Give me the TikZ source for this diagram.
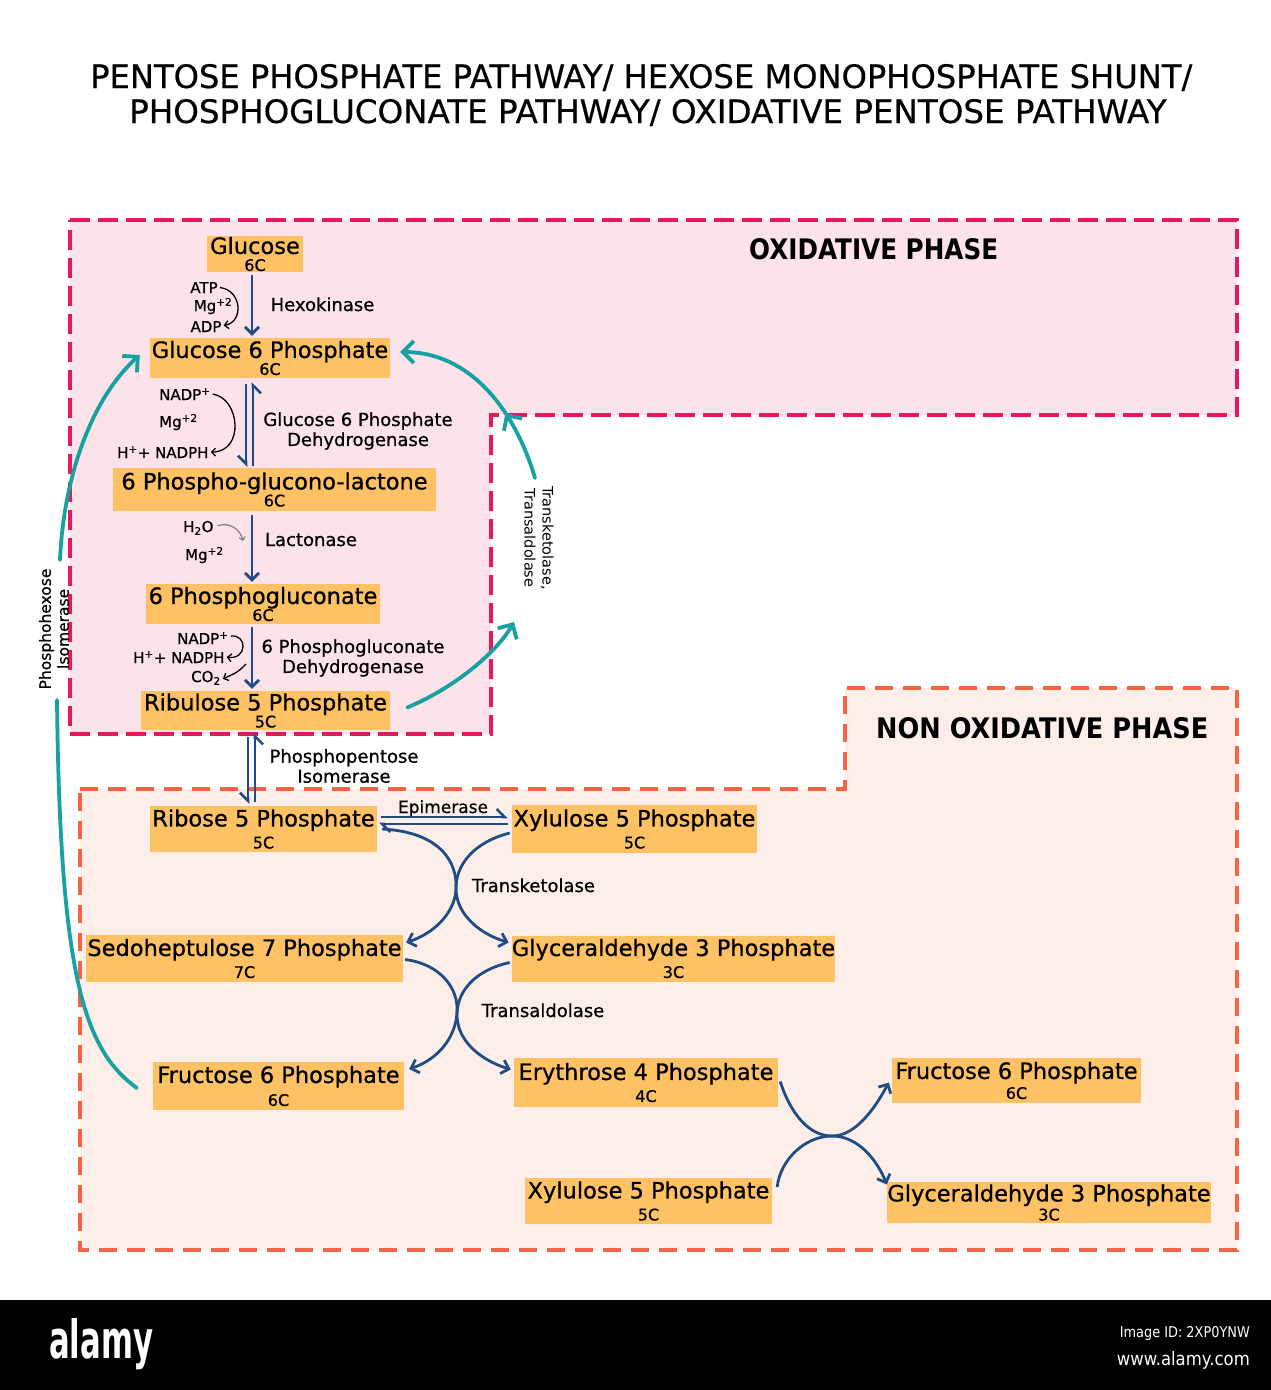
\documentclass[tikz,border=0pt]{standalone}
\usepackage{fontspec}
\setmainfont{DejaVu Sans}
\newfontfamily\medf[FakeBold=0.7]{DejaVu Sans}
\newfontfamily\titf[FakeBold=0.5]{DejaVu Sans}
\usetikzlibrary{arrows.meta,decorations.markings,calc}
\definecolor{oxfill}{HTML}{FCE3E9}
\definecolor{oxline}{HTML}{E8185C}
\definecolor{nofill}{HTML}{FDEEEA}
\definecolor{noline}{HTML}{F46342}
\definecolor{boxor}{HTML}{FEC265}
\definecolor{navy}{HTML}{1F4C84}
\definecolor{tealc}{HTML}{17A1A3}
\definecolor{greyarr}{HTML}{808080}
\newcommand\cmpdtext[3][-4pt]{#2\\[#1]{\fontsize{16}{16}\selectfont #3}}
\begin{document}
\begin{tikzpicture}[x=1pt,y=-1pt,
  cmpd/.style={fill=boxor, inner sep=0pt, align=center, font=\medf\fontsize{22.5}{21}\selectfont},
  enz/.style={inner sep=0pt, align=center, font=\medf\fontsize{18}{20}\selectfont},
  cof/.style={inner sep=0pt, font=\medf\fontsize{15}{16}\selectfont},
  narr/.style={draw=navy, line width=2.8pt, -{Straight Barb[length=7pt,width=14pt]}},
  hR/.style={draw=navy, line width=2.6pt, -{Straight Barb[right,length=8pt,width=16pt]}},
  hL/.style={draw=navy, line width=2.6pt, -{Straight Barb[left,length=8pt,width=16pt]}},
  carr/.style={draw=black, line width=1.3pt, -{Straight Barb[length=4pt,width=8pt]}},
  garr/.style={draw=greyarr, line width=1.2pt, -{Straight Barb[length=3pt,width=6pt]}},
  tl/.style={draw=tealc, line width=3.8pt, line cap=round},
  tla/.style={tl, -{Straight Barb[length=11pt,width=22pt]}},
  midtl/.style={postaction={decorate}, decoration={markings, mark=at position 0.36 with {\arrow[tealc, line width=3.8pt]{Straight Barb[length=11pt,width=22pt]}}}}
]
\useasboundingbox (0,0) rectangle (1271,1390);
\fill[white] (0,0) rectangle (1271,1390);

% title
\node[anchor=base west, inner sep=0pt, font=\titf] (t1) at (90,88) {\resizebox{1102pt}{24pt}{PENTOSE PHOSPHATE PATHWAY/ HEXOSE MONOPHOSPHATE SHUNT/}};
\node[anchor=base west, inner sep=0pt, font=\titf] (t2) at (129,123) {\resizebox{1037pt}{24pt}{PHOSPHOGLUCONATE PATHWAY/ OXIDATIVE PENTOSE PATHWAY}};

% phase regions
\draw[oxline, line width=4pt, dash pattern=on 20pt off 8pt, fill=oxfill]
  (70,220) -- (1237,220) -- (1237,415) -- (491,415) -- (491,734) -- (70,734) -- cycle;
\draw[noline, line width=4pt, dash pattern=on 18pt off 10pt, fill=nofill]
  (80,789) -- (845,789) -- (845,688) -- (1237,688) -- (1237,1250) -- (80,1250) -- cycle;
\node[anchor=base west, inner sep=0pt] (oxl) at (749,259) {\resizebox{249pt}{21pt}{\bfseries OXIDATIVE PHASE}};
\node[anchor=base west, inner sep=0pt] (noxl) at (876,738) {\resizebox{332pt}{21pt}{\bfseries NON OXIDATIVE PHASE}};

% compounds
\node[cmpd, minimum width=96, minimum height=36] (glc) at (255,254) {\cmpdtext{Glucose}{6C}};
\node[cmpd, minimum width=240, minimum height=40] (g6p) at (270,358) {\cmpdtext{Glucose 6 Phosphate}{6C}};
\node[cmpd, minimum width=323, minimum height=43] (pgl) at (274.5,489.5) {\cmpdtext{6 Phospho-glucono-lactone}{6C}};
\node[cmpd, minimum width=234, minimum height=40] (pg) at (263,604) {\cmpdtext{6 Phosphogluconate}{6C}};
\node[cmpd, minimum width=249, minimum height=39] (ru5p) at (265.5,710.5) {\cmpdtext{Ribulose 5 Phosphate}{5C}};
\node[cmpd, minimum width=227, minimum height=46] (r5p) at (263.5,829) {\cmpdtext[1pt]{Ribose 5 Phosphate}{5C}};
\node[cmpd, minimum width=245, minimum height=48] (xu5p) at (634.5,829) {\cmpdtext[1pt]{Xylulose 5 Phosphate}{5C}};
\node[cmpd, minimum width=317, minimum height=47] (s7p) at (244.5,958.5) {\cmpdtext[1pt]{Sedoheptulose 7 Phosphate}{7C}};
\node[cmpd, minimum width=323, minimum height=46] (g3p) at (673.5,958.5) {\cmpdtext[1pt]{Glyceraldehyde 3 Phosphate}{3C}};
\node[cmpd, minimum width=251, minimum height=48] (f6p) at (278.5,1086) {\cmpdtext[2pt]{Fructose 6 Phosphate}{6C}};
\node[cmpd, minimum width=264, minimum height=49] (e4p) at (646,1082.5) {\cmpdtext[1pt]{Erythrose 4 Phosphate}{4C}};
\node[cmpd, minimum width=249, minimum height=45] (f6pb) at (1016.5,1080.5) {\cmpdtext[-1pt]{Fructose 6 Phosphate}{6C}};
\node[cmpd, minimum width=247, minimum height=46] (xu5pb) at (648.5,1201) {\cmpdtext[1pt]{Xylulose 5 Phosphate}{5C}};
\node[cmpd, minimum width=324, minimum height=41] (g3pb) at (1049,1202.5) {\cmpdtext[-2pt]{Glyceraldehyde 3 Phosphate}{3C}};

% enzyme labels
\node[enz, anchor=base] (hk) at (322.5,311) {Hexokinase};
\node[enz] (g6pd) at (358,431) {Glucose 6 Phosphate\\Dehydrogenase};
\node[enz, anchor=base] (lac) at (311,546) {Lactonase};
\node[enz] (pgd) at (353,658) {6 Phosphogluconate\\Dehydrogenase};
\node[enz] (ppi) at (344,766) {Phosphopentose\\Isomerase};
\node[enz, anchor=base, font=\medf\fontsize{17}{20}\selectfont] (epi) at (443,813) {Epimerase};
\node[enz, anchor=base] (tk) at (533.5,892) {Transketolase};
\node[enz, anchor=base] (ta) at (543,1017) {Transaldolase};
\node[enz, rotate=90, font=\medf\fontsize{15.5}{18}\selectfont] (phi) at (54,629) {Phosphohexose\\Isomerase};
\node[enz, rotate=-90, font=\fontsize{14.5}{18}\selectfont] (tkta) at (539,538) {Transketolase,\\Transaldolase};

% cofactors
\node[cof, anchor=base] (atp) at (204,293) {ATP};
\node[cof, anchor=base] (mg1) at (213,311) {Mg\textsuperscript{+2}};
\node[cof, anchor=base] (adp) at (206,332) {ADP};
\node[cof, anchor=base west] (nadpa) at (159,400) {NADP\textsuperscript{+}};
\node[cof, anchor=base west] (mg2) at (159,427) {Mg\textsuperscript{+2}};
\node[cof, anchor=base west] (nadpha) at (117,458) {H\textsuperscript{+}+ NADPH};
\node[cof, anchor=base west] (h2o) at (183,532) {H\textsubscript{2}O};
\node[cof, anchor=base west] (mg3) at (185,560) {Mg\textsuperscript{+2}};
\node[cof, anchor=base west] (nadpb) at (177,644) {NADP\textsuperscript{+}};
\node[cof, anchor=base west] (nadphb) at (133,663) {H\textsuperscript{+}+ NADPH};
\node[cof, anchor=base west] (co2) at (191,682) {CO\textsubscript{2}};

\draw[carr] ($(atp.east)+(2,0)$) .. controls (242,290) and (244,322) .. ($(adp.east)+(2,-1)$);
\draw[carr] ($(nadpa.east)+(2,0)$) .. controls (240,398) and (245,452) .. ($(nadpha.east)+(2,0)$);
\coordinate (h2oend) at (243,541);
\draw[garr] ($(h2o.east)+(4,-2)$) .. controls (228,522) and (240,528) .. (h2oend);
\draw[carr] ($(nadpb.east)+(2,-2)$) .. controls (248,634) and (247,660) .. ($(nadphb.east)+(2,0)$);
\coordinate (cf) at (246,664);
\draw[carr] (cf) .. controls (238,672) .. ($(co2.east)+(2,1)$);

% main navy arrows
\coordinate (ax) at (252,0);
\coordinate (axl) at (246,0);
\coordinate (axr) at (253,0);
\coordinate (bxl) at (248,0);
\coordinate (bxr) at (255,0);
\coordinate (ey1) at (0,817);
\coordinate (ey2) at (0,824);
\draw[narr, shorten <=3pt, shorten >=2pt] (glc.south -| ax) -- (g6p.north -| ax);
\draw[hR, shorten <=6pt, shorten >=1pt] (g6p.south -| axl) -- (pgl.north -| axl);
\draw[hR, shorten <=2pt, shorten >=4pt] (pgl.north -| axr) -- (g6p.south -| axr);
\draw[narr, shorten <=4pt, shorten >=2pt] (pgl.south -| ax) -- (pg.north -| ax);
\draw[narr, shorten <=3pt, shorten >=2pt] (pg.south -| ax) -- (ru5p.north -| ax);
\draw[hR, shorten <=7pt, shorten >=2pt] (ru5p.south -| bxl) -- (r5p.north -| bxl);
\draw[hR, shorten <=4pt, shorten >=3pt] (r5p.north -| bxr) -- (ru5p.south -| bxr);
\draw[hL, shorten <=4pt, shorten >=4pt] (r5p.east |- ey1) -- (xu5p.west |- ey1);
\draw[hL, shorten <=4pt, shorten >=2pt] (xu5p.west |- ey2) -- (r5p.east |- ey2);

% transketolase
\draw[narr] ($(r5p.east)+(5,0)$) .. controls (440,832) and (458,862) .. (456,890) .. controls (454,915) and (432,934) .. ($(s7p.east)+(3,-16)$);
\draw[narr] ($(xu5p.west)+(-2,4)$) .. controls (474,842) and (455,865) .. (456,890) .. controls (457,915) and (480,934) .. ($(g3p.west)+(-3,-16)$);
% transaldolase
\draw[narr] ($(s7p.east)+(2,1)$) .. controls (440,964) and (459,988) .. (457,1013) .. controls (455,1040) and (436,1060) .. ($(f6p.east)+(5,-17)$);
\draw[narr] ($(g3p.west)+(-2,4)$) .. controls (476,970) and (458,990) .. (457,1013) .. controls (456,1040) and (480,1060) .. ($(e4p.west)+(-3,-13)$);
% final exchange
\draw[narr] ($(e4p.east)+(2,-1)$) .. controls (790,1112) and (808,1136) .. (832,1136) .. controls (855,1136) and (874,1110) .. ($(f6pb.west)+(-3,2)$);
\draw[narr] ($(xu5pb.east)+(5,-14)$) .. controls (780,1160) and (805,1136) .. (832,1136) .. controls (858,1136) and (877,1160) .. ($(g3pb.west)+(0,-18)$);

% teal arrows
\coordinate (tlb) at (57,700);
\coordinate (tlt) at (60,560);
\draw[tl] ($(f6p.west)+(-16,2)$) .. controls (85,1050) and (60,980) .. (tlb);
\draw[tla] (tlt) .. controls (64,470) and (95,395) .. ($(g6p.west)+(-10,-3)$);
\coordinate (tkl) at (514,622);
\coordinate (tku) at (535,478);
\draw[tla] ($(ru5p.east)+(17,-3)$) .. controls (450,690) and (495,655) .. (tkl);
\draw[tla, midtl] (tku) .. controls (515,410) and (470,352) .. ($(g6p.east)+(10,-6)$);

% footer bar
\fill[black] (0,1300) rectangle (1271,1390);
\node[anchor=base west, inner sep=0pt, text=white] (alamy) at (49,1358) {\resizebox{104pt}{40pt}{\bfseries alamy}};
\node[anchor=base east, inner sep=0pt, text=white] (imgid) at (1250,1337) {\resizebox{130pt}{11pt}{Image ID: 2XP0YNW}};
\node[anchor=base east, inner sep=0pt, text=white] (www) at (1250,1365) {\resizebox{133pt}{14pt}{www.alamy.com}};
\end{tikzpicture}
\end{document}
